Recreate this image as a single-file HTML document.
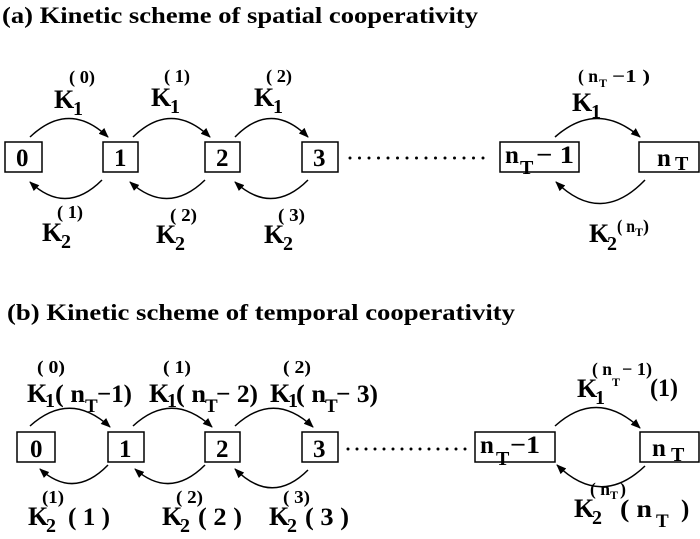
<!DOCTYPE html>
<html><head><meta charset="utf-8"><style>
html,body{margin:0;padding:0;background:#fff;}
svg{display:block;}
text{font-family:"Liberation Serif","Times New Roman",serif;font-weight:bold;fill:#000;}
</style></head><body>
<svg width="700" height="539" viewBox="0 0 700 539" xmlns="http://www.w3.org/2000/svg">
<defs><marker id="a" markerWidth="10" markerHeight="8" refX="9" refY="4" orient="auto" markerUnits="userSpaceOnUse"><path d="M0,0 L10,4 L0,8 Z" fill="#000"/></marker></defs>
<text font-size="23" x="2" y="23" textLength="476" lengthAdjust="spacingAndGlyphs">(a) Kinetic scheme of spatial cooperativity</text>
<text font-size="23" x="7" y="320" textLength="508" lengthAdjust="spacingAndGlyphs">(b) Kinetic scheme of temporal cooperativity</text>

<g fill="none" stroke="#000" stroke-width="1.5">
<rect x="5" y="142" width="37" height="30"/>
<rect x="103" y="142" width="35" height="30"/>
<rect x="205" y="142" width="35" height="30"/>
<rect x="302" y="142" width="36" height="30"/>
<rect x="500" y="142" width="79" height="30"/>
<rect x="639" y="142" width="60" height="30"/>
<path d="M30 137 Q69 100 108 137" marker-end="url(#a)"/>
<path d="M133 137 Q171 100 210 137" marker-end="url(#a)"/>
<path d="M235 137 Q271 100 308 137" marker-end="url(#a)"/>
<path d="M555 137 Q597 100 640 137" marker-end="url(#a)"/>
<path d="M102 180 Q66 216 30 182" marker-end="url(#a)"/>
<path d="M205 180 Q168 216 130 182" marker-end="url(#a)"/>
<path d="M308 180 Q272 216 235 182" marker-end="url(#a)"/>
<path d="M645 180 Q601 226 556 182" marker-end="url(#a)"/>
<rect x="17" y="432" width="38" height="30"/>
<rect x="108" y="432" width="36" height="30"/>
<rect x="205" y="432" width="35" height="30"/>
<rect x="302" y="432" width="36" height="30"/>
<rect x="475" y="432" width="80" height="30"/>
<rect x="640" y="432" width="59" height="30"/>
<path d="M30 426 Q70 390 110 427" marker-end="url(#a)"/>
<path d="M133 426 Q172 390 212 427" marker-end="url(#a)"/>
<path d="M235 426 Q274 390 313 427" marker-end="url(#a)"/>
<path d="M555 426 Q597 388 640 428" marker-end="url(#a)"/>
<path d="M108 465 Q74 500 40 469" marker-end="url(#a)"/>
<path d="M205 465 Q170 500 135 469" marker-end="url(#a)"/>
<path d="M308 470 Q272 506 235 469" marker-end="url(#a)"/>
<path d="M645 466 Q601 508 557 465" marker-end="url(#a)"/>
</g>

<g fill="#000">
<circle cx="350" cy="158" r="1.5"/><circle cx="359.5" cy="158" r="1.5"/><circle cx="369" cy="158" r="1.5"/><circle cx="378.5" cy="158" r="1.5"/><circle cx="388" cy="158" r="1.5"/><circle cx="397.5" cy="158" r="1.5"/><circle cx="407" cy="158" r="1.5"/><circle cx="416.5" cy="158" r="1.5"/><circle cx="426" cy="158" r="1.5"/><circle cx="435.5" cy="158" r="1.5"/><circle cx="445" cy="158" r="1.5"/><circle cx="454.5" cy="158" r="1.5"/><circle cx="464" cy="158" r="1.5"/><circle cx="473.5" cy="158" r="1.5"/><circle cx="483" cy="158" r="1.5"/>
<circle cx="348" cy="449" r="1.5"/><circle cx="357" cy="449" r="1.5"/><circle cx="366" cy="449" r="1.5"/><circle cx="375" cy="449" r="1.5"/><circle cx="384" cy="449" r="1.5"/><circle cx="393" cy="449" r="1.5"/><circle cx="402" cy="449" r="1.5"/><circle cx="411" cy="449" r="1.5"/><circle cx="420" cy="449" r="1.5"/><circle cx="429" cy="449" r="1.5"/><circle cx="438" cy="449" r="1.5"/><circle cx="447" cy="449" r="1.5"/><circle cx="456" cy="449" r="1.5"/><circle cx="465" cy="449" r="1.5"/>
</g>

<g font-size="25">
<text x="16" y="166">0</text>
<text x="114" y="166">1</text>
<text x="216" y="166">2</text>
<text x="313" y="166">3</text>
<text x="505" y="163">n</text><text x="536" y="163" textLength="38" lengthAdjust="spacingAndGlyphs">− 1</text>
<text x="657" y="166">n</text>
<text x="30" y="457">0</text>
<text x="119" y="457">1</text>
<text x="216" y="457">2</text>
<text x="313" y="457">3</text>
<text x="480" y="453">n</text><text x="510" y="453" textLength="30" lengthAdjust="spacingAndGlyphs">−1</text>
<text x="652" y="456">n</text>
</g>
<g font-size="20">
<text x="520" y="174">T</text>
<text x="675" y="170">T</text>
<text x="496" y="465">T</text>
<text x="671" y="461">T</text>
</g>

<g font-size="26">
<text x="54" y="108">K</text>
<text x="151" y="106">K</text>
<text x="254" y="106">K</text>
<text x="572" y="111">K</text>
<text x="42" y="241">K</text>
<text x="156" y="243">K</text>
<text x="264" y="243">K</text>
<text x="589" y="242">K</text>
<text x="27" y="402">K</text>
<text x="149" y="402">K</text>
<text x="270" y="402">K</text>
<text x="577" y="397">K</text>
<text x="28" y="525">K</text>
<text x="162" y="525">K</text>
<text x="269" y="525">K</text>
<text x="574" y="517">K</text>
</g>
<g font-size="20">
<text x="73" y="115">1</text>
<text x="170" y="113">1</text>
<text x="273" y="113">1</text>
<text x="591" y="118">1</text>
<text x="61" y="248">2</text>
<text x="175" y="250">2</text>
<text x="283" y="250">2</text>
<text x="607" y="250">2</text>
<text x="45" y="407">1</text>
<text x="167" y="407">1</text>
<text x="288" y="407">1</text>
<text x="595" y="404">1</text>
<text x="46" y="532">2</text>
<text x="180" y="532">2</text>
<text x="287" y="532">2</text>
<text x="592" y="524">2</text>
</g>
<g font-size="18" lengthAdjust="spacingAndGlyphs">
<text x="69" y="83" textLength="26" lengthAdjust="spacingAndGlyphs">( 0)</text>
<text x="164" y="82" textLength="26" lengthAdjust="spacingAndGlyphs">( 1)</text>
<text x="266" y="82" textLength="26" lengthAdjust="spacingAndGlyphs">( 2)</text>
<text x="578" y="82" textLength="20" lengthAdjust="spacingAndGlyphs">( n</text><text x="612" y="82" textLength="38" lengthAdjust="spacingAndGlyphs">−1 )</text>
<text x="57" y="218" textLength="26" lengthAdjust="spacingAndGlyphs">( 1)</text>
<text x="170" y="221" textLength="27" lengthAdjust="spacingAndGlyphs">( 2)</text>
<text x="278" y="221" textLength="27" lengthAdjust="spacingAndGlyphs">( 3)</text>
<text x="617" y="232" textLength="18" lengthAdjust="spacingAndGlyphs">( n</text><text x="643" y="232">)</text>
<text x="37" y="373" textLength="28" lengthAdjust="spacingAndGlyphs">( 0)</text>
<text x="163" y="373" textLength="28" lengthAdjust="spacingAndGlyphs">( 1)</text>
<text x="283" y="373" textLength="28" lengthAdjust="spacingAndGlyphs">( 2)</text>
<text x="592" y="375" textLength="20" lengthAdjust="spacingAndGlyphs">( n</text><text x="622" y="375" textLength="30" lengthAdjust="spacingAndGlyphs">− 1)</text>
<text x="42" y="503" textLength="22" lengthAdjust="spacingAndGlyphs">(1)</text>
<text x="176" y="503" textLength="27" lengthAdjust="spacingAndGlyphs">( 2)</text>
<text x="283" y="503" textLength="27" lengthAdjust="spacingAndGlyphs">( 3)</text>
<text x="590" y="495" textLength="20" lengthAdjust="spacingAndGlyphs">( n</text><text x="620" y="495">)</text>
</g>
<g font-size="12">
<text x="599" y="87">T</text>
<text x="635" y="236">T</text>
<text x="612" y="386">T</text>
<text x="610" y="499">T</text>
</g>
<g font-size="25">
<text x="55" y="402" textLength="30" lengthAdjust="spacingAndGlyphs">( n</text><text x="97" y="402" textLength="35" lengthAdjust="spacingAndGlyphs">−1)</text>
<text x="176" y="402" textLength="30" lengthAdjust="spacingAndGlyphs">( n</text><text x="216" y="402" textLength="42" lengthAdjust="spacingAndGlyphs">− 2)</text>
<text x="296" y="402" textLength="30" lengthAdjust="spacingAndGlyphs">( n</text><text x="336" y="402" textLength="42" lengthAdjust="spacingAndGlyphs">− 3)</text>
<text x="650" y="396" textLength="28" lengthAdjust="spacingAndGlyphs">(1)</text>
<text x="68" y="525" textLength="42" lengthAdjust="spacingAndGlyphs">( 1 )</text>
<text x="198" y="525" textLength="44" lengthAdjust="spacingAndGlyphs">( 2 )</text>
<text x="305" y="525" textLength="44" lengthAdjust="spacingAndGlyphs">( 3 )</text>
<text x="620" y="517" textLength="32" lengthAdjust="spacingAndGlyphs">( n</text><text x="681" y="517">)</text>
</g>
<g font-size="19">
<text x="85" y="412">T</text>
<text x="205" y="412">T</text>
<text x="325" y="412">T</text>
<text x="656" y="527">T</text>
</g>
</svg>
</body></html>
